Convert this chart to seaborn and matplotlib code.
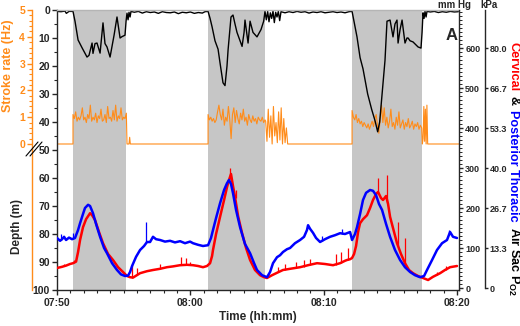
import numpy as np
import pandas as pd
import matplotlib
matplotlib.use("Agg")
import matplotlib.pyplot as plt
import seaborn as sns
from matplotlib.ticker import FixedLocator, MultipleLocator, FuncFormatter
from matplotlib.lines import Line2D

# ---------------- data (minutes after 07:50) ----------------
dive_start = [1.2, 11.33, 22.13]
dive_end = [5.2, 15.6, 27.38]

depth_t = [0.0, 0.3, 0.6, 0.7, 0.9, 1.2,
           1.35, 1.58, 1.88, 2.25, 2.4, 2.63, 2.7, 2.85, 3.0, 3.23, 3.45, 3.6, 3.75, 3.98, 4.28, 4.5,
           4.73, 4.88, 5.1, 5.18, 5.25, 5.33, 5.4, 5.48, 5.55,
           5.8, 6.1, 6.4, 6.7, 7.0, 7.3, 7.6, 7.9, 8.2, 8.5, 8.8, 9.1, 9.4, 9.7, 10.0, 10.3, 10.6, 10.9,
           11.1, 11.33,
           11.48, 11.63, 11.85, 12.08, 12.23, 12.45, 12.6, 12.75, 12.83, 12.98, 13.05, 13.2, 13.35, 13.5,
           13.73, 13.88, 14.03, 14.1, 14.25, 14.33, 14.48, 14.7, 15.0, 15.3, 15.5, 15.6,
           15.7, 15.8, 15.9, 16.0, 16.1, 16.2, 16.3, 16.4, 16.5, 16.6, 16.7, 16.8,
           17.1, 17.4, 17.7, 18.0, 18.3, 18.6, 18.9, 19.2, 19.5, 19.8, 20.1, 20.4, 20.7, 21.0, 21.3,
           21.6, 21.9, 22.13,
           22.5, 22.73, 22.95, 23.3, 23.6, 23.85, 24.05, 24.2, 24.4, 24.6, 24.75, 24.98, 25.2, 25.35,
           25.5, 25.58, 25.73, 25.88, 26.03, 26.1, 26.25, 26.33, 26.48, 26.7, 26.93, 27.08, 27.3,
           27.38, 27.45, 27.53, 27.6, 27.68, 27.75,
           28.0, 28.3, 28.6, 28.9, 29.2, 29.5, 29.8, 30.1]
depth_m = [0.5, 0.6, 0.4, 1.2, 0.5, 0.5,
           4.0, 10.7, 13.5, 16.8, 16.2, 11.8, 15.5, 12.0, 11.8, 15.4, 4.6, 12.0, 13.2, 16.8, 9.0, 2.5,
           10.0, 9.5, 9.0, 4.0, 1.1, 3.5, 0.8, 2.5, 0.5,
           0.8, 0.5, 1.1, 0.6, 0.9, 0.7, 1.2, 0.6, 0.9, 1.0, 0.7, 1.3, 0.8, 1.0, 0.7, 1.2, 0.9, 1.1,
           0.6, 0.5,
           3.0, 6.0, 11.0, 14.0, 19.0, 26.0, 27.0, 20.0, 14.3, 6.0, 2.5, 1.8, 5.0, 8.0,
           11.0, 13.0, 8.0, 3.6, 9.0, 11.8, 4.0, 8.0, 9.6, 7.0, 4.0, 0.5,
           3.5, 0.5, 4.2, 1.0, 3.0, 0.4, 4.5, 0.8, 2.5, 0.5, 3.8, 0.6,
           1.0, 0.6, 0.9, 0.5, 0.8, 0.6, 1.1, 0.7, 0.9, 0.6, 1.0, 0.8, 0.6, 0.9, 0.7,
           1.0, 0.6, 0.5,
           9.6, 17.0, 21.0, 30.0, 35.5, 39.5, 43.5, 40.0, 29.0, 18.0, 4.0, 3.6, 9.6, 5.0,
           3.6, 11.8, 7.0, 3.6, 9.0, 11.8, 10.0, 10.0, 11.0, 11.4, 12.5, 13.2, 13.6,
           8.0, 1.0, 3.0, 0.5, 2.5, 0.5,
           0.7, 0.5, 0.9, 0.6, 0.8, 0.5, 0.7, 0.6]

stroke_dive1 = [1.10, 0.95, 1.20, 0.85, 1.00, 0.90, 1.05, 1.35, 0.90, 1.00, 0.80, 1.10, 0.95, 1.45,
                0.85, 1.00, 0.90, 1.15, 0.80, 1.05, 0.95, 1.30, 0.85, 0.90, 1.10, 0.80, 1.40, 0.95,
                1.00, 0.85, 1.25, 0.90, 1.45, 0.85, 1.05, 0.95, 1.35, 0.90, 1.00, 0.95, 1.15]
stroke_dive2 = [1.10, 0.90, 1.00, 0.85, 0.95, 0.80, 0.90, 1.20, 1.45, 1.10, 0.90, 1.30, 0.70, 1.00,
                0.85, 1.40, 0.90, 0.20, 1.10, 1.35, 0.80, 1.25, 0.95, 0.75, 1.15, 0.90, 1.30, 0.85,
                1.00, 0.70, 1.10, 0.90, 0.80, 1.05, 0.85, 0.95, 0.75, 1.00, 0.90, 0.85, 1.00, 0.80, 0.90]
stroke_post2 = [0.85, 0.10, 1.30, 0.25, 1.05, 0.00, 1.40, 0.30, 0.80, 0.05, 1.20, 0.15, 1.35, 0.00,
                0.95, 0.05, 0.60, 0.00]
stroke_dive3 = [1.25, 1.00, 0.90, 1.10, 0.80, 0.95, 0.75, 0.85, 0.65, 0.80, 0.70, 0.60, 0.75, 0.55,
                0.70, 0.85, 0.65, 0.95, 1.10, 0.70, 0.40, 0.90, 1.45, 0.80, 1.35, 0.70, 1.00, 0.60,
                0.85, 1.30, 0.65, 0.80, 0.55, 1.00, 0.70, 1.20, 0.60, 0.75, 0.90, 0.55, 0.80, 0.65,
                0.95, 0.60, 0.70, 0.85, 0.55, 0.75, 0.65, 0.80, 0.55, 0.70, 0.60]
stroke_post3 = [0.0, 0.2, 1.40, 0.1, 1.30, 0.0, 1.45, 0.0]

blue_t = [0.0, 0.23, 0.38, 0.53, 0.68, 0.9, 1.13, 1.35, 1.58, 1.73, 1.95, 2.1, 2.33, 2.48,
          2.7, 2.93, 3.23, 3.53, 3.75, 4.13, 4.5, 4.8, 5.1, 5.33, 5.48, 5.63, 5.93, 6.23, 6.53,
          6.75, 6.98, 7.2, 7.43, 7.73, 8.1, 8.48, 8.85, 9.23, 9.6, 9.98, 10.2, 10.58, 10.95,
          11.33, 11.55, 11.7, 11.93, 12.23, 12.53, 12.75, 12.9, 13.05, 13.2, 13.43, 13.73, 14.1,
          14.48, 14.78, 15.0, 15.38, 15.75, 15.98, 16.2, 16.5, 16.73, 16.95, 17.25, 17.48, 17.85,
          18.23, 18.53, 18.75, 18.83, 18.98, 19.2, 19.43, 19.73, 20.1, 20.48, 20.85, 21.23, 21.6,
          21.98, 22.13, 22.35, 22.5, 22.73, 22.95, 23.18, 23.48, 23.7, 23.93, 24.15, 24.38, 24.68,
          24.98, 25.35, 25.73, 26.1, 26.48, 26.85, 27.23, 27.53, 27.75, 28.13, 28.5, 28.88, 29.25,
          29.48, 29.7, 30.0]
blue_v = [125, 118, 122, 128, 120, 126, 122, 125, 145, 162, 185, 200, 208, 205,
          187, 160, 128, 100, 87, 62, 45, 34, 30, 31, 40, 55, 78, 95, 105,
          115, 115, 128, 122, 120, 116, 118, 114, 117, 112, 116, 112, 108, 105,
          107, 125, 145, 175, 212, 245, 262, 270, 260, 237, 195, 152, 110,
          87, 62, 45, 32, 27, 40, 62, 77, 82, 90, 97, 100, 112,
          120, 128, 145, 157, 148, 138, 125, 115, 122, 128, 132, 137, 135,
          140, 120, 135, 152, 185, 220, 238, 245, 243, 232, 210, 195, 160,
          128, 95, 70, 52, 40, 32, 27, 30, 45, 70, 95, 112, 120,
          140, 128, 125]
blue_spike_t = [0.3, 1.2, 6.7, 19.9, 21.4, 29.4]
blue_spike_lo = [121, 123, 112, 118, 135, 133]
blue_spike_hi = [135, 138, 165, 130, 148, 145]

red_t = [0.0, 0.38, 0.68, 0.98, 1.2, 1.43, 1.58, 1.73, 1.95, 2.18, 2.48, 2.63, 2.85, 3.15, 3.45,
         3.83, 4.2, 4.58, 4.95, 5.25, 5.48, 5.7, 6.23, 6.75, 7.2, 7.73, 8.25, 8.7, 9.23, 9.75,
         10.2, 10.58, 10.95, 11.25, 11.48, 11.63, 11.7, 11.93, 12.23, 12.53, 12.75, 12.9, 13.05,
         13.2, 13.35, 13.58, 13.88, 14.18, 14.48, 14.85, 15.23, 15.53, 15.75, 16.13, 16.5, 16.95,
         17.48, 18.23, 18.83, 19.5, 20.1, 20.7, 21.23, 21.6, 21.75, 21.98, 22.13, 22.28, 22.43,
         22.58, 22.73, 22.95, 23.25, 23.48, 23.7, 23.93, 24.08, 24.3, 24.45, 24.68, 24.83, 24.98,
         25.2, 25.5, 25.8, 26.1, 26.4, 26.7, 27.08, 27.45, 27.83, 28.2, 28.73, 29.1, 29.48, 30.0]
red_v = [50, 53, 56, 60, 62, 66, 90, 120, 152, 172, 187, 182, 170, 140, 112,
         85, 70, 52, 40, 30, 27, 26, 37, 42, 45, 48, 52, 54, 57, 58,
         57, 55, 52, 55, 62, 80, 95, 135, 178, 220, 252, 270, 285,
         255, 228, 180, 137, 100, 70, 45, 32, 27, 25, 32, 38, 45,
         48, 52, 57, 62, 60, 57, 62, 68, 70, 72, 75, 85, 105,
         140, 162, 172, 182, 200, 220, 235, 240, 225, 220, 230, 210, 178,
         150, 112, 85, 62, 45, 37, 30, 25, 20, 28, 37, 45, 52, 55]
red_spike_t = [0.5, 1.3, 5.6, 6.0, 7.7, 9.3, 9.7, 10.0, 13.0, 13.4, 16.6, 17.1, 17.9, 18.5,
               19.0, 20.9, 21.3, 21.85, 24.1, 24.75, 25.6, 26.1, 28.5, 29.2]
red_spike_lo = [54, 62, 26, 33, 48, 57, 58, 57, 280, 225, 40, 46, 50, 53,
                58, 58, 62, 71, 238, 215, 105, 62, 32, 46]
red_spike_hi = [60, 70, 57, 50, 60, 77, 75, 65, 300, 245, 52, 60, 65, 70,
                72, 85, 90, 100, 275, 282, 165, 125, 40, 55]

depth_ticks = [0, 10, 20, 30, 40, 50, 60, 70, 80, 90, 100]
stroke_ticks = [0, 1, 2, 3, 4, 5]
mmhg_ticks = [0, 100, 200, 300, 400, 500, 600]
kpa_labels = ["0", "13.3", "26.7", "40.0", "53.3", "66.7", "80.0"]
time_ticks = [0, 10, 20, 30]

# ---------------- build stroke series ----------------
def seg(t0, t1, vals):
    return list(np.linspace(t0, t1, len(vals))), list(vals)

stroke_t, stroke_v = [0.0, 1.2], [0.0, 0.0]
for (t0, t1, vals, after_t, after_v) in [
        (1.2, 5.2, stroke_dive1, [5.25, 5.4, 5.45, 5.5, 11.33], [0, 0, 0.25, 0, 0]),
        (11.33, 15.6, stroke_dive2, [], []),
        (15.65, 17.3, stroke_post2, [17.35, 22.13], [0, 0]),
        (22.13, 27.35, stroke_dive3, [], []),
        (27.4, 27.8, stroke_post3, [27.85, 30.2], [0, 0])]:
    tt, vv = seg(t0, t1, vals)
    stroke_t += tt + after_t
    stroke_v += vv + after_v

# ---------------- style ----------------
sns.set_style("ticks")
plt.rcParams["font.family"] = ["Liberation Sans", "DejaVu Sans"]
plt.rcParams["font.weight"] = "bold"
plt.rcParams["axes.labelweight"] = "bold"
plt.rcParams["mathtext.fontset"] = "custom"
plt.rcParams["mathtext.rm"] = "Liberation Sans:bold"
plt.rcParams["mathtext.bf"] = "Liberation Sans:bold"
plt.rcParams["mathtext.it"] = "Liberation Sans:bold"

ORANGE = "#FF8C1A"
TICK_FS = 7.5
RTICK_FS = 6.5
W, H = 520, 326
PX = 0.72  # points per pixel at dpi 100

fig = plt.figure(figsize=(W / 100, H / 100), dpi=100)
rect = [57 / W, 36 / H, 402 / W, 280 / H]
ax = fig.add_axes(rect)
ax_s = ax.twinx()
ax_p = ax.twinx()
ax_k = ax.twinx()

ax_s.set_zorder(1)
ax.set_zorder(2)
ax_p.set_zorder(3)
ax_k.set_zorder(4)
for a in (ax, ax_s, ax_p, ax_k):
    a.patch.set_visible(False)

# gray dive periods
for s, e in zip(dive_start, dive_end):
    ax_s.axvspan(s, e, color="#c6c6c6", lw=0, zorder=0)

# stroke rate
sns.lineplot(x=stroke_t, y=stroke_v, ax=ax_s, color=ORANGE, lw=0.8,
             estimator=None, sort=False, legend=False)
# depth
sns.lineplot(x=depth_t, y=depth_m, ax=ax, color="black", lw=1.0,
             estimator=None, sort=False, legend=False)
# PO2
sns.lineplot(x=red_t, y=red_v, ax=ax_p, color="#ff0000", lw=1.8,
             estimator=None, sort=False, legend=False)
ax_p.vlines(red_spike_t, red_spike_lo, red_spike_hi, color="#ff0000", lw=0.9)
sns.lineplot(x=blue_t, y=blue_v, ax=ax_p, color="#0000ff", lw=1.8,
             estimator=None, sort=False, legend=False)
ax_p.vlines(blue_spike_t, blue_spike_lo, blue_spike_hi, color="#0000ff", lw=0.9)

# ---------------- axes ----------------
ax.set_xlim(0, 30.15)
ax.set_ylim(100, 0)
ax_s.set_ylim(-5.448, 5)
ax_p.set_ylim(-5, 695)
ax_k.set_ylim(-5 / 7.5, 695 / 7.5)

# x axis
ax.xaxis.set_major_locator(FixedLocator(time_ticks))
ax.xaxis.set_minor_locator(MultipleLocator(1))
ax.xaxis.set_major_formatter(FuncFormatter(
    lambda m, p: "%02d:%02d" % divmod(int(round(7 * 60 + 50 + m)), 60)))
ax.set_xlabel("Time (hh:mm)", fontsize=8.5, labelpad=2)
ax.tick_params(axis="x", which="major", length=3.5, width=1, labelsize=TICK_FS, pad=2.5)
ax.tick_params(axis="x", which="minor", length=2.2, width=0.8)

# depth axis
ax.yaxis.set_major_locator(FixedLocator(depth_ticks))
ax.yaxis.set_minor_locator(MultipleLocator(5))
ax.tick_params(axis="y", which="major", length=3.5, width=1, labelsize=TICK_FS, pad=1.5)
ax.tick_params(axis="y", which="minor", length=2.2, width=0.8)
ax.set_ylabel("")
ax.spines["right"].set_visible(False)
ax.spines["top"].set_color("#b5b5b5")
ax.spines["top"].set_linewidth(1.0)
ax.spines["left"].set_linewidth(1.0)
ax.spines["bottom"].set_linewidth(1.0)

# stroke axis (left, outward, orange)
ax_s.yaxis.tick_left()
ax_s.yaxis.set_label_position("left")
for sp in ("top", "right", "bottom"):
    ax_s.spines[sp].set_visible(False)
ax_s.spines["left"].set_visible(True)
ax_s.spines["left"].set_position(("outward", 25 * PX))
ax_s.spines["left"].set_color(ORANGE)
ax_s.spines["left"].set_linewidth(1.0)
ax_s.yaxis.set_major_locator(FixedLocator(stroke_ticks))
ax_s.yaxis.set_minor_locator(FixedLocator(np.arange(0, 5.01, 0.2)))
ax_s.tick_params(axis="y", which="major", colors=ORANGE, length=3.5, width=1,
                 labelsize=TICK_FS, pad=1.5)
ax_s.tick_params(axis="y", which="minor", colors=ORANGE, length=2.2, width=0.8)
ax_s.set_ylabel("")

# mmHg axis
for sp in ("top", "left", "bottom"):
    ax_p.spines[sp].set_visible(False)
ax_p.spines["right"].set_linewidth(1.0)
ax_p.yaxis.set_major_locator(FixedLocator(mmhg_ticks))
ax_p.yaxis.set_minor_locator(FixedLocator(np.arange(0, 691, 10)))
ax_p.tick_params(axis="y", which="major", length=3, width=1, labelsize=RTICK_FS, pad=1.5)
ax_p.tick_params(axis="y", which="minor", length=2, width=0.7)
ax_p.set_ylabel("")

# kPa axis
for sp in ("top", "left", "bottom"):
    ax_k.spines[sp].set_visible(False)
ax_k.spines["right"].set_position(("outward", 26 * PX))
ax_k.spines["right"].set_linewidth(1.0)
ax_k.spines["right"].set_bounds(0, 695 / 7.5)
ax_k.yaxis.set_major_locator(FixedLocator([v / 7.5 for v in mmhg_ticks]))
ax_k.set_yticklabels(kpa_labels)
ax_k.tick_params(axis="y", which="major", length=2.5, width=1, labelsize=RTICK_FS, pad=1)

# ---------------- text ----------------
fig.text(455 / W, 1 - 5 / H, "mm Hg", ha="center", va="center", fontsize=7)
fig.text(489 / W, 1 - 5 / H, "kPa", ha="center", va="center", fontsize=7)
fig.text(452 / W, 1 - 35 / H, "A", ha="center", va="center", fontsize=12)
fig.text(8 / W, 1 - 66 / H, "Stroke rate (Hz)", rotation=90, ha="center", va="center",
         fontsize=9, color=ORANGE)
fig.text(17 / W, 1 - 226 / H, "Depth (m)", rotation=90, ha="center", va="center",
         fontsize=8.5)

# axis break marks on the stroke-rate spine
for dx in (0, 4):
    fig.add_artist(Line2D([(26 + dx) / W, (38 + dx) / W], [1 - 156 / H, 1 - 142 / H],
                          color="black", lw=0.8))

# multi-coloured right label
renderer = fig.canvas.get_renderer()
chunks = [("Cervical", "#ff0000"), ("&", "black"), ("Posterior Thoracic", "#0000ff"),
          ("Air Sac P$_{\\mathrm{O2}}$", "black")]
y_px = 42.0
space_px = 5.0
for txt, col in chunks:
    t = fig.text(513.5 / W, 1 - y_px / H, txt, rotation=270, ha="center", va="top",
                 fontsize=9.1, color=col)
    bb = t.get_window_extent(renderer=renderer)
    y_px += bb.height + space_px

fig.savefig("out.png", dpi=100)
